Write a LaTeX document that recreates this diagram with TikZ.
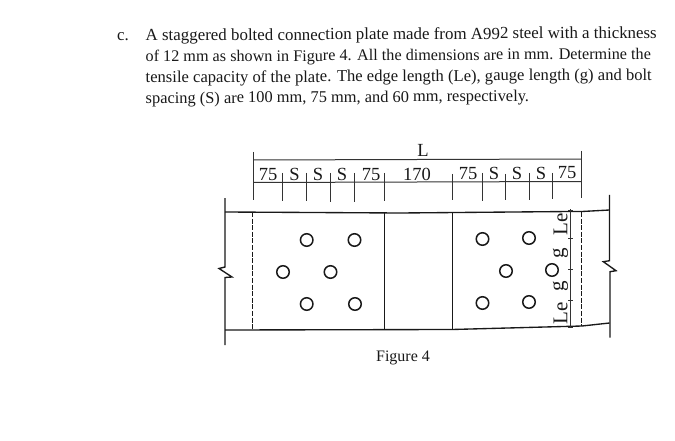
\documentclass[tikz,border=0pt]{standalone}
\usepackage{fontspec}
\setmainfont{Liberation Serif}
\tikzset{
  ln/.style={line width=1.35pt,black!90},
  thin ln/.style={line width=1pt,black!80},
  dashln/.style={line width=1.3pt,black!90,dash pattern=on 5pt off 1.6pt},
  hole/.style={circle,draw=black!90,line width=1.5pt,minimum size=12.5pt,inner sep=0pt},
  para/.style={anchor=base west,inner sep=0pt,rotate=0.33,text=black!90},
  dim/.style={anchor=base,inner sep=0pt,font=\fontsize{18.5pt}{20pt}\selectfont,text=black!90},
  rotdim/.style={anchor=center,inner sep=0pt,rotate=90,font=\fontsize{21pt}{22pt}\selectfont,text=black!90},
}
\begin{document}
\begin{tikzpicture}[x=1pt,y=-1pt]
\useasboundingbox (0,0) rectangle (675,441);
\fill[white] (0,0) rectangle (675,441);
% paragraph
\node[para,font=\fontsize{16.9pt}{19pt}\selectfont] (c) at (117,41) {c.};
\node[para,font=\fontsize{16.9pt}{19pt}\selectfont] (p1) at (145.5,41) {A staggered bolted connection plate made from A992 steel with a thickness};
\node[para,font=\fontsize{16.2pt}{19pt}\selectfont] (p2) at (145.5,62) {of 12 mm as shown in Figure 4. All the dimensions are in mm. Determine the};
\node[para,font=\fontsize{16.6pt}{19pt}\selectfont] (p3) at (145.5,83) {tensile capacity of the plate. The edge length (Le), gauge length (g) and bolt};
\node[para,font=\fontsize{16.4pt}{19pt}\selectfont] (p4) at (145.5,103.5) {spacing (S) are 100 mm, 75 mm, and 60 mm, respectively.};
% top dimension lines
\draw[thin ln] (253,160) -- (581.5,159);
\draw[thin ln] (253,182.5) -- (581.5,181.5);
\draw[thin ln] (253,152) -- (253,200);
\draw[thin ln] (581.5,151) -- (581.5,198);
\foreach \x/\a/\b in {282/173/201,306/173/201,330/173/202,354/173/202,384/173/201,452/174/200,482/173/201,505/174/200,529/173/200,552/173/199}
  \draw[thin ln] (\x,\a) -- (\x,\b);
% labels
\node[dim] (L) at (423,157) {L};
\foreach \n/\x/\y/\t in {a/268/180/75,b/294.5/180/S,c2/318/180/S,d/342/180/S,e/371/180/75,f/417/180/170,g/468/179.5/75,h/494/179/S,i/517/179/S,j/541/179/S,k/567/178.5/75}
  \node[dim] (dim\n) at (\x,\y) {\t};
% plate
\draw[ln] (225,212) -- (400,213) -- (570,211.5) -- (582,211.5) -- (609.5,210);
\draw[ln] (225,330) -- (452,329.5) -- (582,326) -- (609.5,323);
\draw[ln] (225,198) -- (225,267) -- (219,268.5) -- (232,277) -- (225,277.5) -- (225,345);
\draw[ln] (609.5,195) -- (609.5,260.7) -- (603.3,261.7) -- (616,270.7) -- (610,271.7) -- (610,337.7);
\draw[dashln] (252.5,212) -- (252.5,330);
\draw[dashln] (581.5,212) -- (581.5,326);
\draw[ln] (384.5,212) -- (384.5,330);
\draw[ln] (452.5,213) -- (452.5,329);
% side dimension
\draw[thin ln] (570.5,209) -- (570.5,328);
\foreach \y in {210,238,269,300,327}
  \draw[thin ln] (568,\y) -- (573,\y);
\node[rotdim] (le1) at (560.5,224) {Le};
\node[rotdim] (g1) at (560.5,253) {g};
\node[rotdim] (g2) at (560.5,286) {g};
\node[rotdim] (le2) at (560.5,313) {Le};
% holes
\foreach \n/\x/\y in {h1/306.7/240,h2/354.5/240,h3/283/272,h4/330.5/272,h5/306.7/304,h6/355/304,h7/482.5/239,h8/529/238,h9/506/271,h10/552/270,h11/482.5/303,h12/529/302}
  \node[hole] (\n) at (\x,\y) {};
\node[anchor=base,inner sep=0pt,font=\fontsize{16pt}{18pt}\selectfont,text=black!90] (fig) at (403,361) {Figure 4};
\end{tikzpicture}
\end{document}
